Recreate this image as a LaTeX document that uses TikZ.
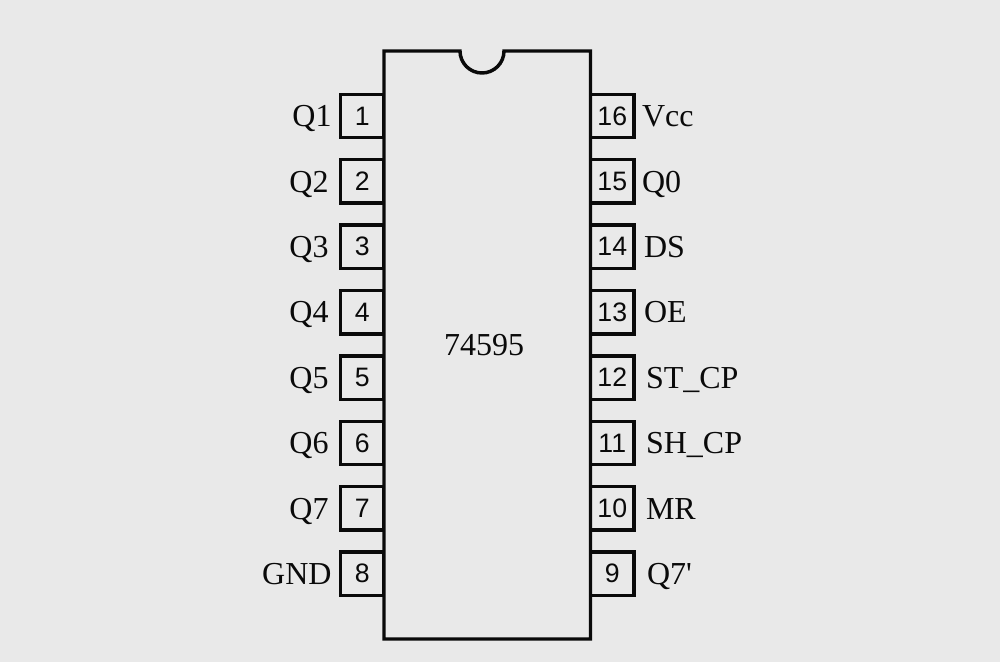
\documentclass[tikz,border=0pt]{standalone}
\usepackage{fontspec}
\setmainfont{Liberation Serif}
\newfontfamily\pinfont{Liberation Sans}
\usetikzlibrary{positioning}
\definecolor{paper}{HTML}{E9E9E9}
\definecolor{ink}{HTML}{0A0A0A}
\tikzset{
	pinbox/.style={draw=ink,line width=2.6pt,minimum width=32.6pt,minimum height=32.6pt,inner sep=0pt,font=\pinfont\fontsize{20}{20}\selectfont,text=ink},
	pinname/.style={inner sep=0pt,font=\fontsize{24}{24}\selectfont,text=ink,text height=16pt,text depth=0pt},
}
\begin{document}
\begin{tikzpicture}[x=0.75pt,y=0.75pt]
	\def\chipL{384}
	\def\chipR{590.5}
	\def\chipT{611}
	\def\chipB{23}
	\fill[paper] (0,0) rectangle (1000,662);
	\useasboundingbox (0,0) rectangle (1000,662);
	% left row
	\foreach \n/\t/\g in {1/Q1/7,2/Q2/10,3/Q3/10,4/Q4/10,5/Q5/10,6/Q6/10,7/Q7/10,8/GND/7}{
		\node[pinbox] (pin\n) at (362.3,{546-65.4*(\n-1)}) {\n};
		\node[pinname,left=\g*0.75pt of pin\n] (name\n) {\t};
	}
	% right row
	\foreach \n/\t/\g in {16/Vcc/6,15/Q0/6,14/DS/8,13/OE/8,12/ST\_CP/10,11/SH\_CP/10,10/MR/10,9/Q7\textquotesingle/11}{
		\node[pinbox] (pin\n) at (612.3,{546-65.4*(16-\n)}) {\n};
		\node[pinname,right=\g*0.75pt of pin\n] (name\n) {\t};
	}
	\draw[ink,line width=2.6pt,fill=paper] (\chipL,\chipT) -- (460,\chipT) arc[start angle=180,end angle=360,radius=22] -- (\chipR,\chipT) -- (\chipR,\chipB) -- (\chipL,\chipB) -- cycle;
	\node[font=\fontsize{24}{24}\selectfont,text=ink] (chipname) at (484,317) {74595};
\end{tikzpicture}
\end{document}
